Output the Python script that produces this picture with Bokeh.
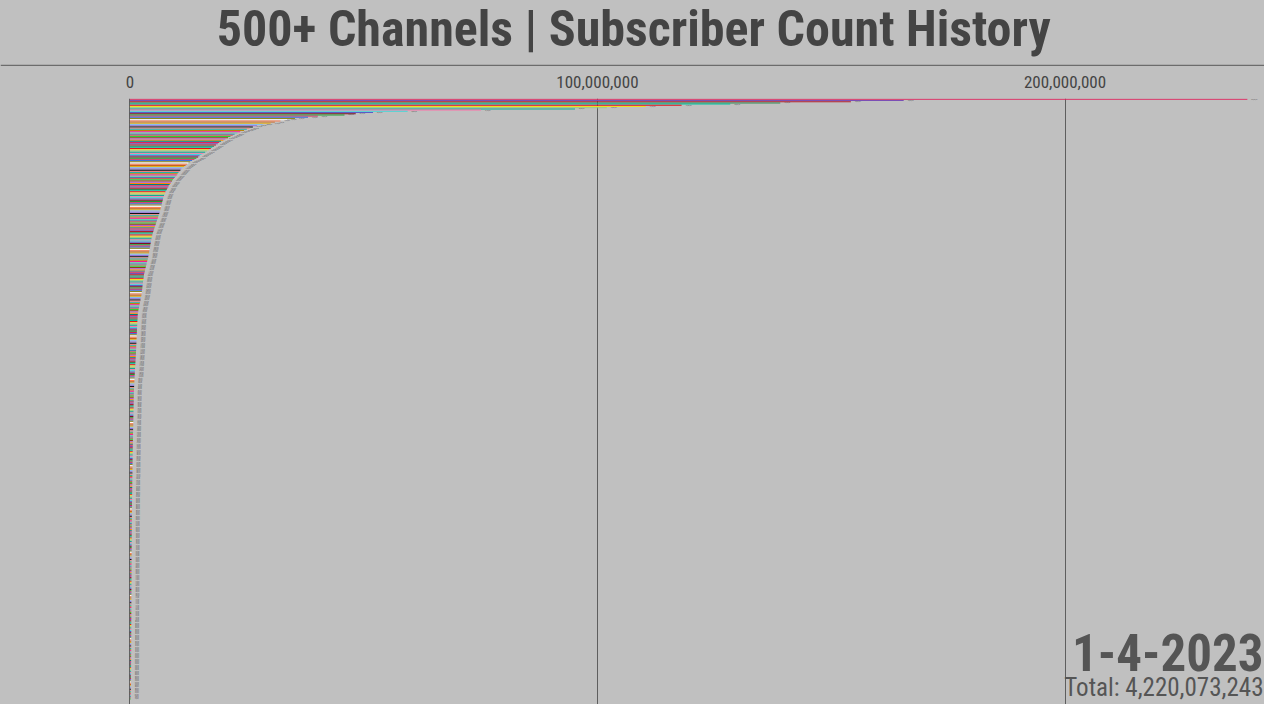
from bokeh.plotting import figure
from bokeh.layouts import column
from bokeh.models import ColumnDataSource, Range1d, FixedTicker, NumeralTickFormatter, Label, Span
from bokeh.embed import file_html
from bokeh.resources import INLINE

# ---- data (subscribers, millions), ranked ----
subs_top = [239.0, 165.5, 154.2, 139.1, 128.4, 118.0, 110.3, 102.0, 95.2, 75.1, 59.4]
subs_upper = [52.0, 48.3, 45.9, 40.2, 38.1, 35.3, 33.6, 32.2, 31.0, 30.1, 28.4, 27.2, 26.3,
              25.6, 25.0, 24.4, 23.6, 23.0, 22.4]
subs_mid1 = [22.0, 21.5, 21.0, 20.4, 20.0, 19.5, 19.1, 18.8, 18.4, 18.0, 17.6, 17.3, 16.9,
             16.5, 16.1, 15.7, 15.3, 14.9, 14.6, 14.2, 13.8, 13.3, 12.9, 12.5, 12.2]
subs_mid2 = [11.9, 11.6, 11.3, 11.0, 10.8, 10.6, 10.4, 10.2, 10.0, 9.8, 9.6, 9.4, 9.2, 9.0,
             8.8, 8.7, 8.5, 8.3, 8.2, 8.0, 7.9, 7.8, 7.6, 7.5, 7.4, 7.3]
subs_mid3 = [7.22, 7.15, 7.08, 7.01, 6.94, 6.88, 6.81, 6.75, 6.68, 6.62, 6.55, 6.49, 6.42, 6.36,
             6.28, 6.20, 6.12, 6.03, 5.95, 5.86, 5.78, 5.69, 5.60, 5.52, 5.43, 5.35, 5.26, 5.17,
             5.09, 5.01, 4.93, 4.85, 4.77, 4.72, 4.67, 4.62, 4.57, 4.52, 4.48, 4.43, 4.38, 4.34,
             4.29, 4.24, 4.20, 4.15, 4.11, 4.06, 4.02, 3.98]
subs_low = [3.93, 3.87, 3.81, 3.74, 3.68, 3.62, 3.55, 3.49, 3.43, 3.37, 3.31, 3.25, 3.19, 3.13,
            3.07, 3.01, 2.98, 2.95, 2.91, 2.88, 2.85, 2.81, 2.78, 2.75, 2.71, 2.68, 2.65, 2.62,
            2.59, 2.56, 2.53, 2.50, 2.45, 2.40, 2.35, 2.30, 2.25, 2.20, 2.15, 2.10, 2.05, 2.00,
            1.95, 1.90, 1.85, 1.80, 1.75, 1.70, 1.69, 1.67, 1.66, 1.64, 1.63, 1.61, 1.60, 1.58,
            1.57, 1.56, 1.54, 1.53, 1.52, 1.51, 1.50, 1.49, 1.48, 1.47, 1.46, 1.44, 1.43, 1.42,
            1.41, 1.40, 1.39, 1.38, 1.36, 1.35, 1.34, 1.33, 1.32, 1.31, 1.30, 1.28, 1.27, 1.25,
            1.24, 1.22, 1.21, 1.19, 1.18, 1.16, 1.15, 1.13, 1.12, 1.10, 1.09, 1.07, 1.05, 1.04,
            1.03, 1.01, 1.00, 0.99, 0.98, 0.96, 0.95, 0.94, 0.93, 0.91, 0.90, 0.89, 0.88, 0.86,
            0.85]
subs_tail = [0.84, 0.84, 0.83, 0.83, 0.82, 0.82, 0.81, 0.81, 0.80, 0.80, 0.79, 0.79, 0.78, 0.78, 0.77, 0.77,
             0.76, 0.76, 0.75, 0.75, 0.74, 0.74, 0.73, 0.73, 0.72, 0.72, 0.71, 0.71, 0.70, 0.70, 0.69, 0.69,
             0.68, 0.68, 0.67, 0.67, 0.66, 0.66, 0.65, 0.65, 0.64, 0.64, 0.63, 0.63, 0.62, 0.62, 0.61, 0.61,
             0.60, 0.60, 0.59, 0.59, 0.59, 0.58, 0.58, 0.58, 0.57, 0.57, 0.57, 0.56, 0.56, 0.56, 0.55, 0.55,
             0.55, 0.54, 0.54, 0.54, 0.53, 0.53, 0.53, 0.52, 0.52, 0.52, 0.51, 0.51, 0.51, 0.50, 0.50, 0.50,
             0.49, 0.49, 0.49, 0.48, 0.48, 0.48, 0.47, 0.47, 0.47, 0.46, 0.46, 0.46, 0.45, 0.45, 0.45, 0.44,
             0.44, 0.44, 0.44, 0.43, 0.43, 0.43, 0.43, 0.42, 0.42, 0.42, 0.42, 0.41, 0.41, 0.41, 0.41, 0.40,
             0.40, 0.40, 0.40, 0.40, 0.39, 0.39, 0.39, 0.39, 0.39, 0.38, 0.38, 0.38, 0.38, 0.38, 0.37, 0.37,
             0.37, 0.37, 0.37, 0.37, 0.36, 0.36, 0.36, 0.36, 0.36, 0.36, 0.35, 0.35, 0.35, 0.35, 0.35, 0.35,
             0.35, 0.34, 0.34, 0.34, 0.34, 0.34, 0.34, 0.34, 0.33, 0.33, 0.33, 0.33, 0.33, 0.33, 0.33, 0.33,
             0.33, 0.32, 0.32, 0.32, 0.32, 0.32, 0.32, 0.32, 0.32, 0.32, 0.31, 0.31, 0.31, 0.31, 0.31, 0.31,
             0.31, 0.31, 0.31, 0.31, 0.30, 0.30, 0.30, 0.30, 0.30, 0.30, 0.30, 0.30, 0.30, 0.30, 0.29, 0.29,
             0.29, 0.29, 0.29, 0.29, 0.29, 0.29, 0.29, 0.29, 0.28, 0.28, 0.28, 0.28, 0.28, 0.28, 0.28, 0.28,
             0.28, 0.27, 0.27, 0.27, 0.27, 0.27, 0.27, 0.27, 0.27, 0.27, 0.26, 0.26, 0.26, 0.26, 0.26, 0.26,
             0.26, 0.26, 0.25, 0.25, 0.25, 0.25, 0.25, 0.25, 0.25, 0.24, 0.24, 0.24, 0.24, 0.24, 0.24, 0.23,
             0.23, 0.23, 0.23, 0.23, 0.22, 0.22, 0.22, 0.22, 0.21, 0.21, 0.21, 0.20, 0.20, 0.19, 0.18, 0.17]

x_ticks = [0, 100_000_000, 200_000_000]
title_text = "500+ Channels | Subscriber Count History"
date_text = "1-4-2023"
total_text = "Total: 4,220,073,243"

palette = ["#e0245e", "#7b4fb5", "#b01c2e", "#2e8b57", "#00bfa0", "#e8101a", "#f0e020", "#9acd80",
           "#16a596", "#ff6fa8", "#40d8d8", "#5a5ac8", "#7a1020", "#1e9e2e", "#d81b60", "#3f6fd8",
           "#8a8a20", "#ffffff", "#ff7f50", "#c8641e", "#e0b020", "#87bef0", "#9370db", "#111111",
           "#f08080", "#20b2aa", "#b8860b", "#ff1493", "#66cdaa", "#4682b4", "#cd5c5c", "#32cd32",
           "#8b4513", "#ba55d3", "#ff8c00", "#008080"]

subs_m = subs_top + subs_upper + subs_mid1 + subs_mid2 + subs_mid3 + subs_low + subs_tail
subs = [round(v * 1_000_000) for v in subs_m]
rank = list(range(len(subs)))
src = ColumnDataSource(dict(
    rank=rank,
    subs=subs,
    label=[f"{v:,}" for v in subs],
    color=[palette[i % len(palette)] for i in rank],
))

BG = "#c0c0c0"
NARROW = "'Roboto Condensed', 'Liberation Sans Narrow', 'DejaVu Sans Condensed', 'Roboto', sans-serif"
W = 1264
HEAD_H = 66
MAIN_H = 704 - HEAD_H

# ---- header: title and separator line ----
head = figure(width=W, height=HEAD_H, output_backend="svg", toolbar_location=None,
              x_range=Range1d(0, 1), y_range=Range1d(0, 1),
              x_axis_location=None, y_axis_location=None,
              min_border=0, styles={"background-color": BG})
head.background_fill_color = BG
head.border_fill_color = BG
head.outline_line_color = None
head.grid.grid_line_color = None
head.add_layout(Label(x=0.501, y=0.565, text=title_text,
                      text_align="center", text_baseline="alphabetic",
                      text_font=NARROW, text_font_style="bold", text_font_size="50px",
                      text_color="#444444"))
head.add_layout(Span(location=0.015, dimension="width", line_color="#6c6c6c", line_width=1.5))

# ---- main bar chart ----
px_per_m = 4.6755
x0_px = 129.4
n = len(subs)
row_px = 1.202
p = figure(width=W, height=MAIN_H, output_backend="svg", toolbar_location=None,
           x_axis_location="above", y_axis_location=None,
           x_range=Range1d(-x0_px / px_per_m * 1e6, (W - x0_px) / px_per_m * 1e6),
           y_range=Range1d(n - 0.5 + 5 / row_px, -0.5 - 0.2 / row_px),
           min_border_left=0, min_border_right=0, min_border_bottom=0, min_border_top=32,
           styles={"background-color": BG})
p.background_fill_color = BG
p.border_fill_color = BG
p.outline_line_color = None

ax = p.xaxis[0]
ax.ticker = FixedTicker(ticks=x_ticks)
ax.formatter = NumeralTickFormatter(format="0,0")
ax.axis_line_color = None
ax.major_tick_line_color = None
ax.minor_tick_line_color = None
ax.major_label_standoff = 5
ax.major_label_text_font = NARROW
ax.major_label_text_font_size = "17px"
ax.major_label_text_color = "#444444"

p.xgrid.ticker = FixedTicker(ticks=x_ticks)
p.xgrid.grid_line_color = "#5e5e5e"
p.xgrid.grid_line_width = 1
p.ygrid.grid_line_color = None

p.hbar(y="rank", left=0, right="subs", height=0.82, color="color", line_color=None, source=src)
p.text(x="subs", y="rank", text="label", x_offset=4, text_baseline="middle",
       text_font=NARROW, text_font_size="1.2px", text_color="#303030",
       source=src)

p.add_layout(Label(x=p.x_range.end, y=p.y_range.start, x_offset=-1, y_offset=52, text=date_text,
                   text_align="right", text_baseline="alphabetic",
                   text_font=NARROW, text_font_style="bold", text_font_size="51px",
                   text_color="#555555"))
p.add_layout(Label(x=p.x_range.end, y=p.y_range.start, x_offset=-1, y_offset=17, text=total_text,
                   text_align="right", text_baseline="alphabetic",
                   text_font=NARROW, text_font_size="25px",
                   text_color="#555555"))

layout = column(head, p, spacing=0, styles={"background-color": BG})
open("out.html", "w").write(file_html(layout, INLINE))
